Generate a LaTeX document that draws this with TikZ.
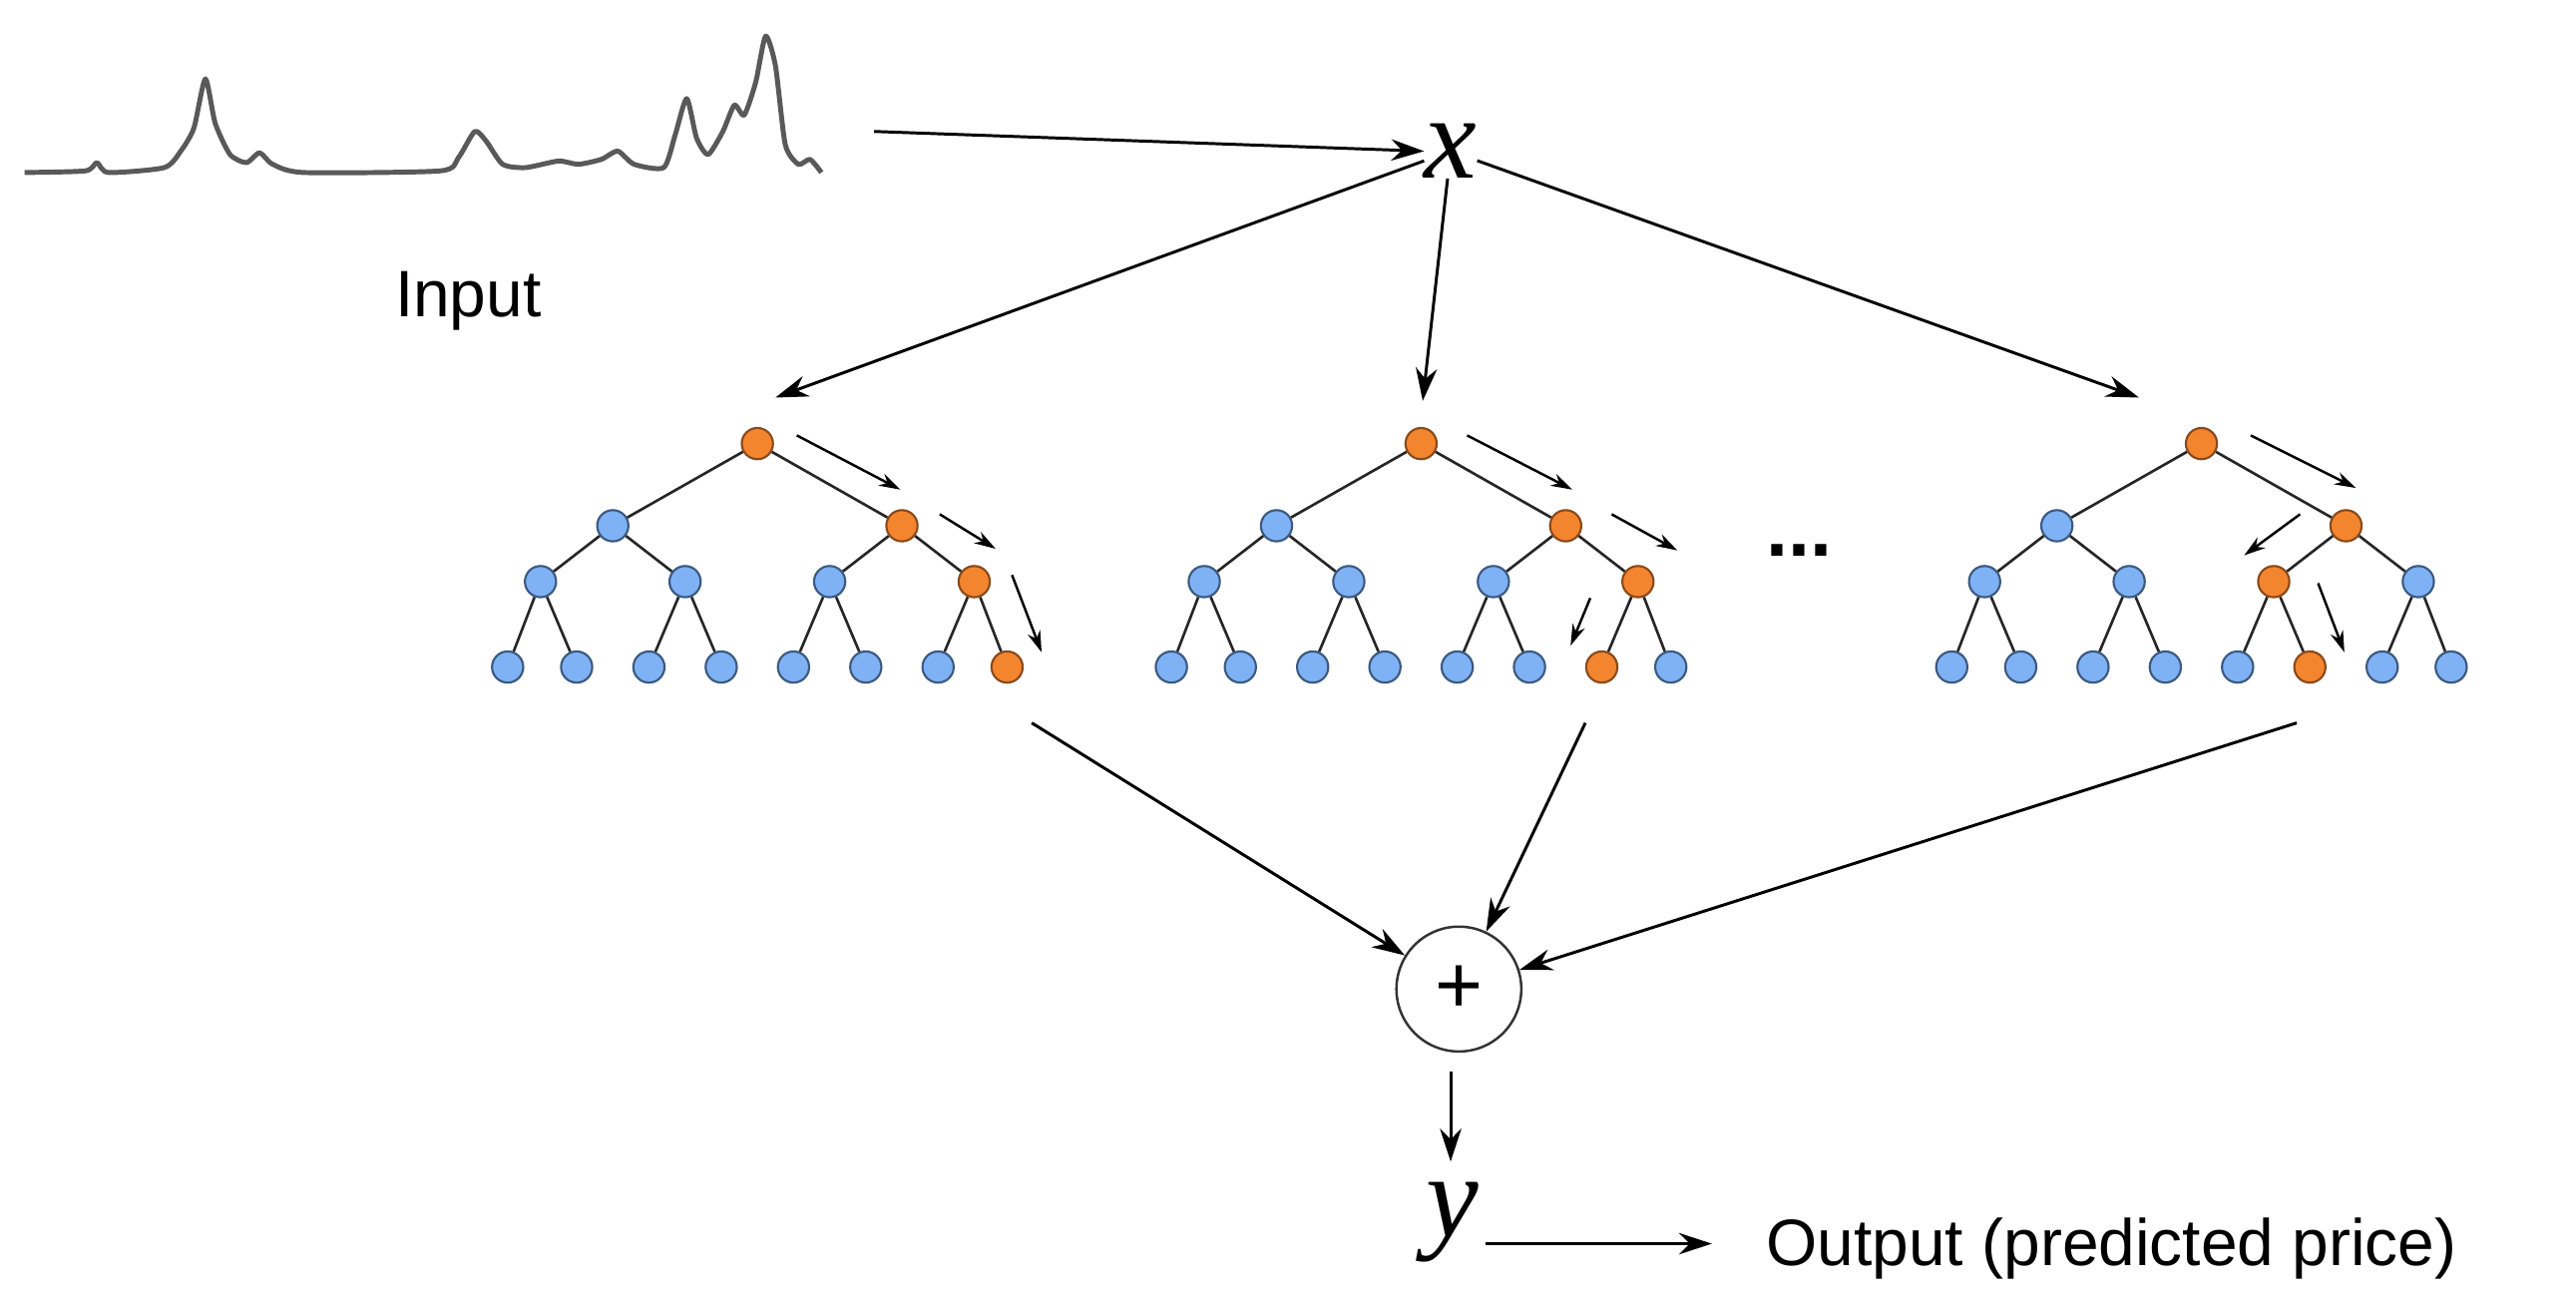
\documentclass[tikz,border=0pt]{standalone}
\usepackage{fontspec}
\setmainfont{Liberation Sans}
\newfontfamily\tms{Liberation Serif}
\usetikzlibrary{arrows.meta}
\definecolor{nblue}{HTML}{7FB2F5}
\definecolor{norange}{HTML}{F4852F}
\definecolor{nbd}{HTML}{3C5A80}
\definecolor{obd}{HTML}{8A4A1A}
\tikzset{
  tn/.style={circle,draw=nbd,line width=1.3pt,minimum size=19pt,inner sep=0pt},
  edge/.style={line width=1.6pt,draw=black!85},
  big/.style={line width=1.8pt,-{Stealth[length=20pt,width=13pt]}},
  small/.style={line width=1.5pt,-{Stealth[length=13pt,width=8pt]}},
  txt/.style={font=\fontsize{40}{48}\selectfont,inner sep=0pt},
  var/.style={font=\tms\itshape\fontsize{72}{80}\selectfont,inner sep=0pt}
}
\newcommand\mytree[4]{%
  \node[tn,fill=norange,draw=obd] (#1r) at (#2,270) {};
  \node[tn,fill=nblue] (#1a1) at (#2-88,320) {};
  \node[tn,fill=norange,draw=obd] (#1a2) at (#2+88,320) {};
  \foreach \i/\dx/\p in {1/-132/1,2/-44/1,3/44/2,4/132/2}{%
    \ifnum\i=#3 \def\fc{norange}\def\dc{obd}\else\def\fc{nblue}\def\dc{nbd}\fi
    \node[tn,fill=\fc,draw=\dc] (#1b\i) at (#2+\dx,354) {};
    \draw[edge] (#1a\p) -- (#1b\i);
  }
  \foreach \j/\dx/\p in {1/-152/1,2/-110/1,3/-66/2,4/-22/2,5/22/3,6/66/3,7/110/4,8/152/4}{%
    \ifnum\j=#4 \def\fc{norange}\def\dc{obd}\else\def\fc{nblue}\def\dc{nbd}\fi
    \node[tn,fill=\fc,draw=\dc] (#1c\j) at (#2+\dx,406) {};
    \draw[edge] (#1b\p) -- (#1c\j);
  }
  \draw[edge] (#1r) -- (#1a1);
  \draw[edge] (#1r) -- (#1a2);
}
\begin{document}
\begin{tikzpicture}[x=1pt,y=-1pt]
\useasboundingbox[fill=white] (0,0) rectangle (1568,796);
% input signal
\draw[line width=3pt,black!65,line join=round] plot[smooth,tension=0.4] coordinates {(15,105)(52,104)(59,99)(66,105)(100,102)(110,92)(118,78)(125,48)(131,75)(140,94)(150,99)(158,93)(166,100)(185,105)(268,104)(279,96)(289,80)(296,86)(306,100)(320,102)(340,98)(352,100)(366,97)(376,92)(386,100)(404,102)(411,82)(418,60)(424,84)(431,94)(440,80)(447,64)(453,70)(460,50)(466,22)(472,40)(478,88)(486,100)(493,97)(500,105)};
\coordinate (sig) at (532,80);
\node[txt] (input) at (285,183) {Input};
\node[var] (x) at (883,92) {x};
\draw[big] (sig) -- (x.west);
\mytree{A}{461}{4}{8}
\mytree{B}{865}{4}{7}
\mytree{C}{1340}{3}{6}
\node[font=\bfseries\fontsize{48}{48}\selectfont] (dots) at (1095,335) {...};
\draw[big] (x) -- (472,242) coordinate (ea);
\draw[big] (x) -- (866,244) coordinate (eb);
\draw[big] (x) -- (1302,242) coordinate (ec);
% path arrows
\draw[small] (485,265) -- (548,298);
\draw[small] (572,313) -- (606,334);
\draw[small] (616,350) -- (634,397);
\draw[small] (893,265) -- (957,298);
\draw[small] (981,313) -- (1021,335);
\draw[small] (968,364) -- (956,393);
\draw[small] (1370,265) -- (1434,297);
\draw[small] (1400,313) -- (1366,338);
\draw[small] (1411,355) -- (1427,397);
% sum
\node[circle,draw=black!80,line width=1.5pt,minimum size=76pt,inner sep=0pt,font=\fontsize{50}{50}\selectfont] (sum) at (888,602) {+};
\coordinate (oa) at (628,440);
\coordinate (ob) at (965,440);
\coordinate (oc) at (1398,440);
\draw[big] (oa) -- (sum);
\draw[big] (ob) -- (sum);
\draw[big] (oc) -- (sum);
\node[var] (y) at (884,744) {y};
\draw[big] (sum) ++(-5,50) coordinate (s0) (s0) -- ++(0,55) coordinate (s1);
\node[txt,anchor=west] (out) at (1075,760) {Output (predicted price)};
\draw[big] (904,757) -- (1042,757);
\end{tikzpicture}
\end{document}
